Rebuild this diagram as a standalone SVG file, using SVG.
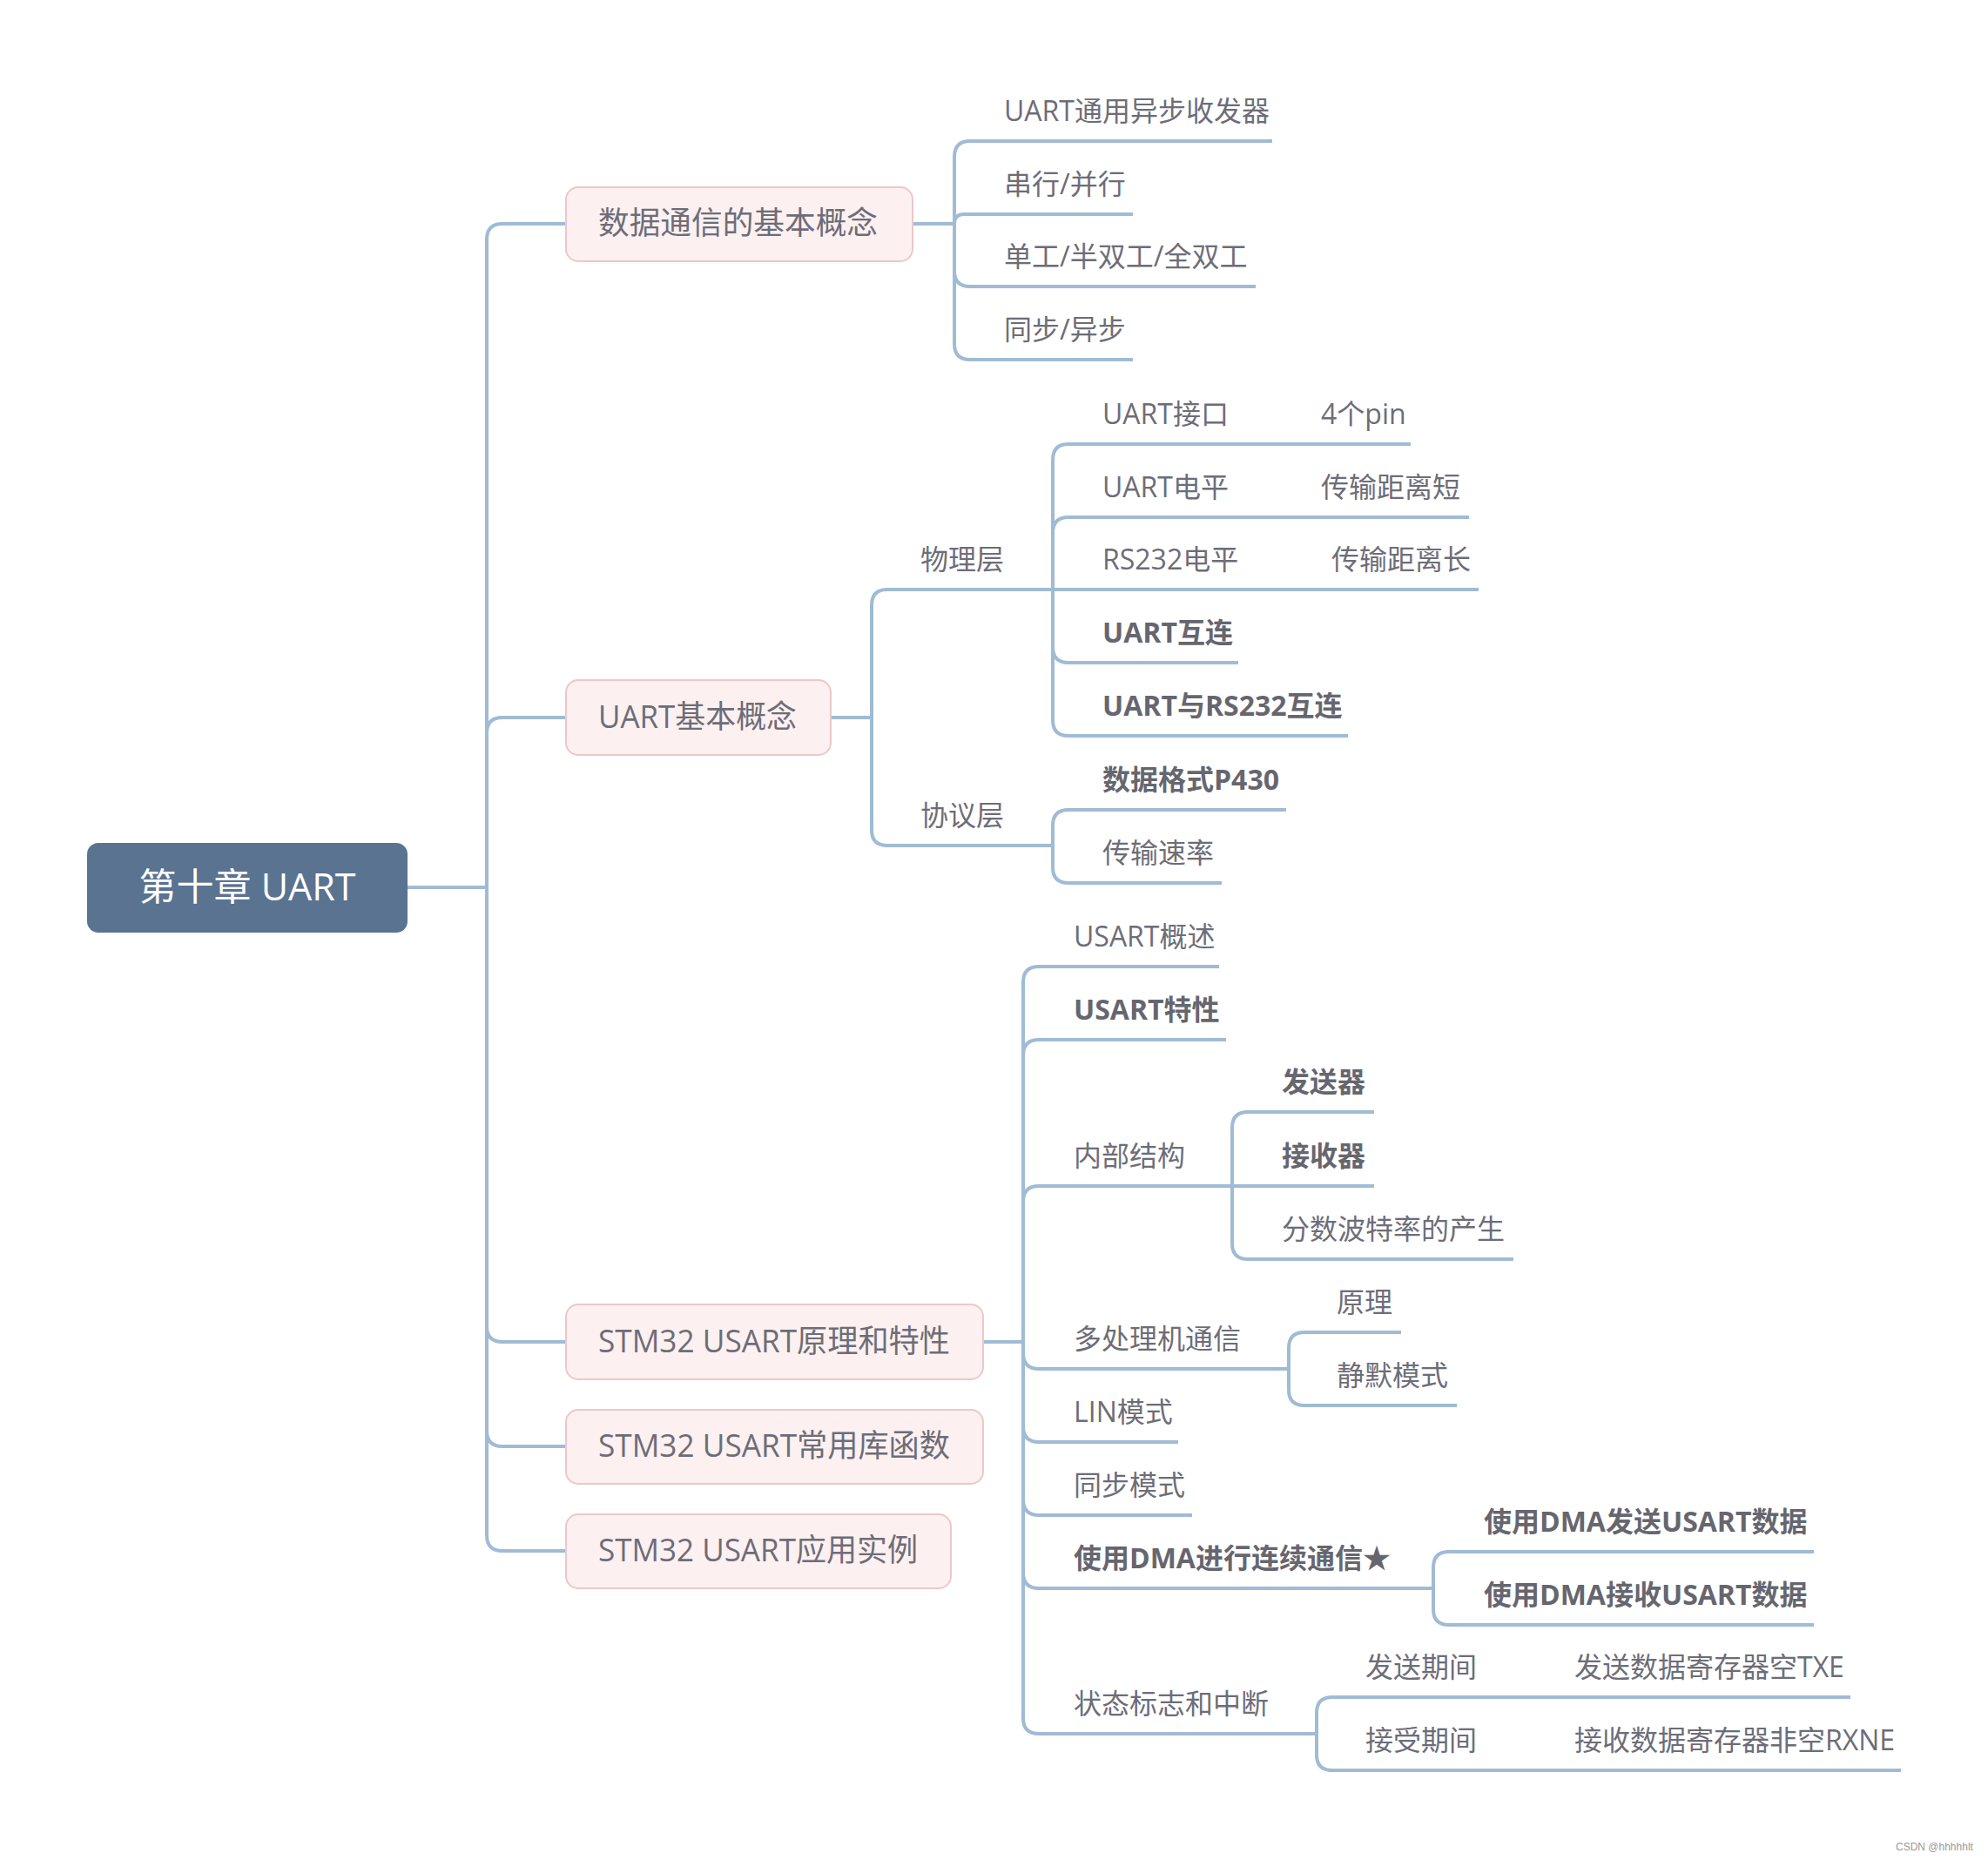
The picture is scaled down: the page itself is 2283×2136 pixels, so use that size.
<svg xmlns="http://www.w3.org/2000/svg" width="2283" height="2136" viewBox="0 0 2283 2136">
<style>
.ln{fill:none;stroke:#a0bbd4;stroke-width:4}
.t{font-family:"Open Sans","Noto Sans CJK SC",sans-serif;font-size:32px;fill:#6d6d78}
.b{font-weight:bold;fill:#66666f}
.bx{fill:#fcf0f0;stroke:#edc8c8;stroke-width:2}
.bt{font-family:"Open Sans","Noto Sans CJK SC",sans-serif;font-size:36px;fill:#6d6d78}
.rt{font-family:"Open Sans","Noto Sans CJK SC",sans-serif;font-size:43px;fill:#ffffff}
</style>
<rect width="2283" height="2136" fill="#ffffff"/>
<g id="connectors">
<path class="ln" d="M468 1019 H559 V275 Q559 257 577 257 H650"/>
<path class="ln" d="M468 1019 H559 V842 Q559 824 577 824 H650"/>
<path class="ln" d="M468 1019 H559 V1523 Q559 1541 577 1541 H650"/>
<path class="ln" d="M468 1019 H559 V1643 Q559 1661 577 1661 H650"/>
<path class="ln" d="M468 1019 H559 V1763 Q559 1781 577 1781 H650"/>
<path class="ln" d="M1048 257 H1096 V180 Q1096 162 1114 162 H1461"/>
<path class="ln" d="M1048 257 H1096 Q1096 246 1107 246 H1301"/>
<path class="ln" d="M1048 257 H1096 V311 Q1096 329 1114 329 H1442"/>
<path class="ln" d="M1048 257 H1096 V395 Q1096 413 1114 413 H1301"/>
<path class="ln" d="M954 824 H1001 V695 Q1001 677 1019 677 H1209"/>
<path class="ln" d="M954 824 H1001 V953 Q1001 971 1019 971 H1209"/>
<path class="ln" d="M1209 677 V528 Q1209 510 1227 510 H1620"/>
<path class="ln" d="M1209 677 V612 Q1209 594 1227 594 H1687"/>
<path class="ln" d="M1209 677 H1698"/>
<path class="ln" d="M1209 677 V743 Q1209 761 1227 761 H1422"/>
<path class="ln" d="M1209 677 V827 Q1209 845 1227 845 H1548"/>
<path class="ln" d="M1209 971 V948 Q1209 930 1227 930 H1477"/>
<path class="ln" d="M1209 971 V996 Q1209 1014 1227 1014 H1403"/>
<path class="ln" d="M1129 1541 H1175 V1128 Q1175 1110 1193 1110 H1400"/>
<path class="ln" d="M1129 1541 H1175 V1212 Q1175 1194 1193 1194 H1408"/>
<path class="ln" d="M1129 1541 H1175 V1380 Q1175 1362 1193 1362 H1415"/>
<path class="ln" d="M1129 1541 H1175 V1554 Q1175 1572 1193 1572 H1480"/>
<path class="ln" d="M1129 1541 H1175 V1638 Q1175 1656 1193 1656 H1353"/>
<path class="ln" d="M1129 1541 H1175 V1722 Q1175 1740 1193 1740 H1369"/>
<path class="ln" d="M1129 1541 H1175 V1806 Q1175 1824 1193 1824 H1646"/>
<path class="ln" d="M1129 1541 H1175 V1973 Q1175 1991 1193 1991 H1512"/>
<path class="ln" d="M1415 1362 V1295 Q1415 1277 1433 1277 H1578"/>
<path class="ln" d="M1415 1362 H1578"/>
<path class="ln" d="M1415 1362 V1428 Q1415 1446 1433 1446 H1738"/>
<path class="ln" d="M1480 1572 V1548 Q1480 1530 1498 1530 H1609"/>
<path class="ln" d="M1480 1572 V1596 Q1480 1614 1498 1614 H1673"/>
<path class="ln" d="M1646 1824 V1800 Q1646 1782 1664 1782 H2083"/>
<path class="ln" d="M1646 1824 V1848 Q1646 1866 1664 1866 H2083"/>
<path class="ln" d="M1512 1991 V1967 Q1512 1949 1530 1949 H2125"/>
<path class="ln" d="M1512 1991 V2015 Q1512 2033 1530 2033 H2183"/>
</g>
<g id="root">
<rect x="100" y="968" width="368" height="103" rx="13" fill="#5a7390"/>
<text class="rt" x="284" y="1034" text-anchor="middle">第十章 UART</text>
</g>
<g id="n-basic">
<rect class="bx" x="650" y="215" width="398" height="85" rx="14"/>
<text class="bt" x="687" y="269" textLength="321" lengthAdjust="spacingAndGlyphs">数据通信的基本概念</text>
</g>
<g id="n-uart">
<rect class="bx" x="650" y="781" width="304" height="86" rx="14"/>
<text class="bt" x="687" y="836" textLength="228" lengthAdjust="spacingAndGlyphs">UART基本概念</text>
</g>
<g id="n-stm1">
<rect class="bx" x="650" y="1498" width="479" height="86" rx="14"/>
<text class="bt" x="687" y="1553" textLength="404" lengthAdjust="spacingAndGlyphs">STM32 USART原理和特性</text>
</g>
<g id="n-stm2">
<rect class="bx" x="650" y="1619" width="479" height="85" rx="14"/>
<text class="bt" x="687" y="1673" textLength="404" lengthAdjust="spacingAndGlyphs">STM32 USART常用库函数</text>
</g>
<g id="n-stm3">
<rect class="bx" x="650" y="1739" width="442" height="85" rx="14"/>
<text class="bt" x="687" y="1793" textLength="367" lengthAdjust="spacingAndGlyphs">STM32 USART应用实例</text>
</g>
<g id="n-b1"><text class="t" x="1153" y="139">UART通用异步收发器</text></g>
<g id="n-b2"><text class="t" x="1153" y="223">串行/并行</text></g>
<g id="n-b3"><text class="t" x="1153" y="306">单工/半双工/全双工</text></g>
<g id="n-b4"><text class="t" x="1153" y="390">同步/异步</text></g>
<g id="n-phy"><text class="t" x="1057" y="654">物理层</text></g>
<g id="n-proto"><text class="t" x="1057" y="948">协议层</text></g>
<g id="n-p1"><text class="t" x="1266" y="487">UART接口</text></g>
<g id="n-p1a"><text class="t" x="1517" y="487">4个pin</text></g>
<g id="n-p2"><text class="t" x="1266" y="571">UART电平</text></g>
<g id="n-p2a"><text class="t" x="1517" y="571">传输距离短</text></g>
<g id="n-p3"><text class="t" x="1266" y="654">RS232电平</text></g>
<g id="n-p3a"><text class="t" x="1529" y="654">传输距离长</text></g>
<g id="n-p4"><text class="t b" x="1266" y="738">UART互连</text></g>
<g id="n-p5"><text class="t b" x="1266" y="822">UART与RS232互连</text></g>
<g id="n-q1"><text class="t b" x="1266" y="907">数据格式P430</text></g>
<g id="n-q2"><text class="t" x="1266" y="991">传输速率</text></g>
<g id="n-s1"><text class="t" x="1233" y="1087">USART概述</text></g>
<g id="n-s2"><text class="t b" x="1233" y="1171">USART特性</text></g>
<g id="n-s3"><text class="t" x="1233" y="1339">内部结构</text></g>
<g id="n-s3a"><text class="t b" x="1472" y="1254">发送器</text></g>
<g id="n-s3b"><text class="t b" x="1472" y="1339">接收器</text></g>
<g id="n-s3c"><text class="t" x="1472" y="1423">分数波特率的产生</text></g>
<g id="n-s4"><text class="t" x="1233" y="1549">多处理机通信</text></g>
<g id="n-s4a"><text class="t" x="1535" y="1507">原理</text></g>
<g id="n-s4b"><text class="t" x="1535" y="1591">静默模式</text></g>
<g id="n-s5"><text class="t" x="1233" y="1633">LIN模式</text></g>
<g id="n-s6"><text class="t" x="1233" y="1717">同步模式</text></g>
<g id="n-s7"><text class="t b" x="1233" y="1801">使用DMA进行连续通信★</text></g>
<g id="n-s7a"><text class="t b" x="1704" y="1759">使用DMA发送USART数据</text></g>
<g id="n-s7b"><text class="t b" x="1704" y="1843">使用DMA接收USART数据</text></g>
<g id="n-s8"><text class="t" x="1233" y="1968">状态标志和中断</text></g>
<g id="n-s8a"><text class="t" x="1568" y="1926">发送期间</text></g>
<g id="n-s8a1"><text class="t" x="1808" y="1926">发送数据寄存器空TXE</text></g>
<g id="n-s8b"><text class="t" x="1568" y="2010">接受期间</text></g>
<g id="n-s8b1"><text class="t" x="1808" y="2010">接收数据寄存器非空RXNE</text></g>
<text x="2177" y="2125" font-family="'Liberation Sans',sans-serif" font-size="12" fill="#999999">CSDN @hhhhhlt</text>
</svg>
